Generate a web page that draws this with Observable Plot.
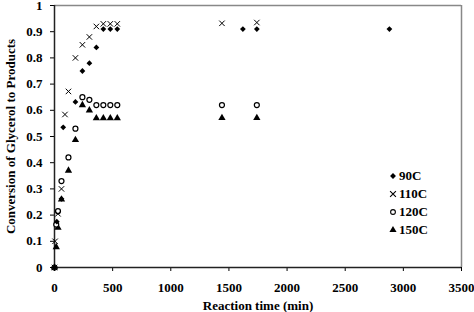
<!DOCTYPE html>
<html>
<head>
<meta charset="utf-8">
<script src="https://cdn.jsdelivr.net/npm/d3@7"></script>
<script src="https://cdn.jsdelivr.net/npm/@observablehq/plot@0.6"></script>
<style>
  html, body { margin: 0; padding: 0; background: #fff; }
  #wrap { position: relative; width: 474px; height: 312px; }
  #legend { position: absolute; left: 388px; top: 167px; font-family: "Liberation Serif", serif; font-weight: bold; font-size: 13px; color: #000; line-height: 18px; }
  #legend div { display: flex; align-items: center; height: 18px; }
  #legend svg { width: 10px; height: 10px; margin-right: 1px; overflow: visible; }
</style>
</head>
<body>
<div id="wrap"><div id="legend"></div></div>
<script>
const seriesNames = ["90C", "110C", "120C", "150C"];

const time90 = [0, 20, 60, 75, 180, 240, 300, 360, 420, 480, 540, 1620, 1740, 2880];
const conv90 = [0, 0.175, 0.262, 0.535, 0.632, 0.75, 0.78, 0.84, 0.91, 0.91, 0.91, 0.91, 0.91, 0.91];

const time110 = [0, 5, 30, 60, 90, 120, 180, 240, 300, 360, 420, 480, 540, 1440, 1740];
const conv110 = [0, 0.10, 0.205, 0.30, 0.584, 0.672, 0.80, 0.85, 0.88, 0.92, 0.93, 0.93, 0.93, 0.932, 0.935];

const time120 = [0, 15, 30, 60, 120, 180, 240, 300, 360, 420, 480, 540, 1440, 1740];
const conv120 = [0, 0.164, 0.215, 0.33, 0.42, 0.53, 0.65, 0.64, 0.62, 0.62, 0.62, 0.62, 0.62, 0.62];

const time150 = [0, 15, 30, 60, 120, 180, 240, 300, 360, 420, 480, 540, 1440, 1740];
const conv150 = [0, 0.078, 0.152, 0.26, 0.37, 0.487, 0.62, 0.60, 0.57, 0.57, 0.57, 0.57, 0.571, 0.571];

const xTicks = [0, 500, 1000, 1500, 2000, 2500, 3000, 3500];
const yTicks = [0, 0.1, 0.2, 0.3, 0.4, 0.5, 0.6, 0.7, 0.8, 0.9, 1];
const xTitle = "Reaction time (min)";
const yTitle = "Conversion of Glycerol to Products";

const toRows = (ts, vs) => ts.map((t, i) => ({t, v: vs[i]}));
const d90 = toRows(time90, conv90);
const d110 = toRows(time110, conv110);
const d120 = toRows(time120, conv120);
const d150 = toRows(time150, conv150);

const font = "Liberation Serif, Times New Roman, serif";

const chart = Plot.plot({
  width: 474,
  height: 312,
  marginLeft: 54,
  marginRight: 13,
  marginTop: 5,
  marginBottom: 45,
  style: {fontFamily: font, fontWeight: "bold", fontSize: "13px", color: "#000", background: "#fff"},
  x: {domain: [0, 3500]},
  y: {domain: [0, 1]},
  marks: [
    Plot.axisX({ticks: xTicks, tickSize: 4, tickPadding: 11, tickFormat: d => String(d), label: xTitle, labelAnchor: "center", labelArrow: false, labelOffset: 42, fontSize: 13}),
    Plot.axisY({ticks: yTicks, tickSize: 4, tickPadding: 8, tickFormat: d => String(d), label: yTitle, labelAnchor: "center", labelArrow: false, labelOffset: 49, fontSize: 13}),
    Plot.ruleX([3500], {stroke: "#888", strokeWidth: 1.5}),
    Plot.ruleY([1], {stroke: "#888", strokeWidth: 1.5}),
    Plot.ruleX([0], {stroke: "#222", strokeWidth: 1.5}),
    Plot.ruleY([0], {stroke: "#222", strokeWidth: 1.5}),
    Plot.dot(d150, {x: "t", y: "v", symbol: "triangle", fill: "#000", r: 2.7}),
    Plot.dot(d120, {x: "t", y: "v", symbol: "circle", fill: "#fff", stroke: "#000", strokeWidth: 1.2, r: 2.5}),
    Plot.dot(d110, {x: "t", y: "v", symbol: "times", stroke: "#000", strokeWidth: 1, r: 2.6}),
    Plot.dot(d90, {x: "t", y: "v", symbol: "diamond2", fill: "#000", r: 2.6})
  ]
});
document.getElementById("wrap").prepend(chart);

// legend
const legendSymbols = [
  {type: d3.symbolDiamond2, fill: "#000", stroke: "none", size: 22},
  {type: d3.symbolTimes, fill: "none", stroke: "#000", size: 24},
  {type: d3.symbolCircle, fill: "#fff", stroke: "#000", size: 18},
  {type: d3.symbolTriangle, fill: "#000", stroke: "none", size: 22}
];
const legend = d3.select("#legend");
seriesNames.forEach((name, i) => {
  const s = legendSymbols[i];
  const row = legend.append("div");
  const svg = row.append("svg").attr("viewBox", "-5 -5 10 10");
  svg.append("path").attr("d", d3.symbol(s.type, s.size)()).attr("fill", s.fill).attr("stroke", s.stroke).attr("stroke-width", 1.1);
  row.append("span").text(name);
});
</script>
</body>
</html>
